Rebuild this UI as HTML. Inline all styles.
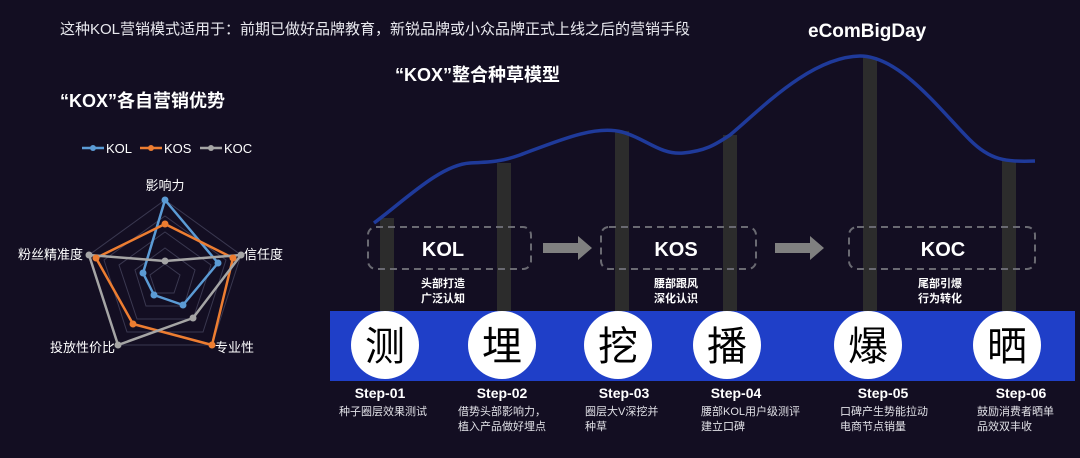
<!DOCTYPE html>
<html><head><meta charset="utf-8"><style>
body{margin:0;background:#130e22;}
svg{display:block}
text{font-family:"Liberation Sans","Noto Sans CJK SC",sans-serif;}
</style></head><body>
<svg width="1080" height="458" viewBox="0 0 1080 458" xmlns="http://www.w3.org/2000/svg">
<rect width="1080" height="458" fill="#130e22"/>
<text x="60" y="34" fill="#e8e8ee" font-size="15">这种KOL营销模式适用于：前期已做好品牌教育，新锐品牌或小众品牌正式上线之后的营销手段</text>
<text x="808" y="37" fill="#fff" font-size="19" font-weight="bold">eComBigDay</text>
<text x="395" y="81" fill="#fff" font-size="18" font-weight="bold">“KOX”整合种草模型</text>
<text x="60" y="107" fill="#fff" font-size="18" font-weight="bold">“KOX”各自营销优势</text>
<g stroke-width="2.5">
<line x1="82" y1="148" x2="104" y2="148" stroke="#5b9bd5"/><circle cx="93" cy="148" r="3" fill="#5b9bd5"/>
<line x1="140" y1="148" x2="162" y2="148" stroke="#ed7d31"/><circle cx="151" cy="148" r="3" fill="#ed7d31"/>
<line x1="200" y1="148" x2="222" y2="148" stroke="#a5a5a5"/><circle cx="211" cy="148" r="3" fill="#a5a5a5"/>
</g>
<text x="106" y="153" fill="#fff" font-size="13">KOL</text>
<text x="164" y="153" fill="#fff" font-size="13">KOS</text>
<text x="224" y="153" fill="#fff" font-size="13">KOC</text>
<g fill="none" stroke="#3a3850" stroke-width="1">
<polygon points="165,200 241,255 212,345 118,345 89,255"/>
<polygon points="165,216 226,260 203,332 127,332 104,260"/>
<polygon points="165,232 211,265 193,319 137,319 119,265"/>
<polygon points="165,248 195,270 184,306 146,306 135,270"/>
<polygon points="165,264 180,275 174,293 156,293 150,275"/>
</g>
<text x="165" y="190" fill="#fff" font-size="13" text-anchor="middle">影响力</text>
<text x="244" y="259" fill="#fff" font-size="13">信任度</text>
<text x="215" y="352" fill="#fff" font-size="13">专业性</text>
<text x="50" y="352" fill="#fff" font-size="13">投放性价比</text>
<text x="18" y="259" fill="#fff" font-size="13">粉丝精准度</text>
<g fill="none" stroke-width="2.5" stroke-linejoin="round">
<polygon points="165,200 218,263 183,305 154,295 143,273" stroke="#5b9bd5"/>
<polygon points="165,224 233,258 212,345 133,324 96,258" stroke="#ed7d31"/>
<polygon points="165,261 241,255 193,318 118,345 89,255" stroke="#a5a5a5"/>
</g>
<g fill="#5b9bd5"><circle cx="165" cy="200" r="3.5"/><circle cx="218" cy="263" r="3.5"/><circle cx="183" cy="305" r="3.5"/><circle cx="154" cy="295" r="3.5"/><circle cx="143" cy="273" r="3.5"/></g>
<g fill="#ed7d31"><circle cx="165" cy="224" r="3.5"/><circle cx="233" cy="258" r="3.5"/><circle cx="212" cy="345" r="3.5"/><circle cx="133" cy="324" r="3.5"/><circle cx="96" cy="258" r="3.5"/></g>
<g fill="#a5a5a5"><circle cx="165" cy="261" r="3.5"/><circle cx="241" cy="255" r="3.5"/><circle cx="193" cy="318" r="3.5"/><circle cx="118" cy="345" r="3.5"/><circle cx="89" cy="255" r="3.5"/></g>
<g fill="#2c2c2c">
<rect x="380" y="218" width="14" height="95"/>
<rect x="497" y="163" width="14" height="150"/>
<rect x="615" y="131" width="14" height="182"/>
<rect x="723" y="135" width="14" height="178"/>
<rect x="863" y="57" width="14" height="256"/>
<rect x="1002" y="161" width="14" height="152"/>
</g>
<path d="M374,223 C405,200 440,165 470,163 C490,162 500,162 520,155 C560,140 595,125 622,132 C645,138 660,155 683,153 C705,151 715,145 730,135 C760,110 810,57 860,56 C900,56 940,110 970,140 C990,160 1005,162 1035,161" fill="none" stroke="#1f3a9a" stroke-width="3.5"/>
<g fill="none" stroke="#6a6a72" stroke-width="2" stroke-dasharray="7,5">
<rect x="368" y="227" width="163" height="42" rx="8"/>
<rect x="601" y="227" width="155" height="42" rx="8"/>
<rect x="849" y="227" width="186" height="42" rx="8"/>
</g>
<g fill="#808080">
<polygon points="543,243 578,243 578,236 592,248 578,260 578,253 543,253"/>
<polygon points="775,243 810,243 810,236 824,248 810,260 810,253 775,253"/>
</g>
<g fill="#fff" font-weight="bold" text-anchor="middle">
<text x="443" y="256" font-size="20">KOL</text>
<text x="676" y="256" font-size="20">KOS</text>
<text x="943" y="256" font-size="20">KOC</text>
<text x="443" y="287" font-size="11">头部打造</text><text x="443" y="302" font-size="11">广泛认知</text>
<text x="676" y="287" font-size="11">腰部跟风</text><text x="676" y="302" font-size="11">深化认识</text>
<text x="940" y="287" font-size="11">尾部引爆</text><text x="940" y="302" font-size="11">行为转化</text>
</g>
<rect x="330" y="311" width="745" height="70" fill="#1f3fc8"/>
<g fill="#fff"><circle cx="385" cy="345" r="34"/><circle cx="502" cy="345" r="34"/><circle cx="618" cy="345" r="34"/><circle cx="727" cy="345" r="34"/><circle cx="868" cy="345" r="34"/><circle cx="1007" cy="345" r="34"/></g>
<g fill="#000" font-size="40" text-anchor="middle">
<text x="385" y="360">测</text><text x="502" y="360">埋</text><text x="618" y="360">挖</text><text x="727" y="360">播</text><text x="868" y="360">爆</text><text x="1007" y="360">晒</text>
</g>
<g fill="#fff" font-size="14" font-weight="bold" text-anchor="middle">
<text x="380" y="398">Step-01</text><text x="502" y="398">Step-02</text><text x="624" y="398">Step-03</text><text x="736" y="398">Step-04</text><text x="883" y="398">Step-05</text><text x="1021" y="398">Step-06</text>
</g>
<g fill="#e0e0e6" font-size="11">
<text x="339" y="415">种子圈层效果测试</text>
<text x="458" y="415">借势头部影响力，</text><text x="458" y="430">植入产品做好埋点</text>
<text x="585" y="415">圈层大V深挖并</text><text x="585" y="430">种草</text>
<text x="701" y="415">腰部KOL用户级测评</text><text x="701" y="430">建立口碑</text>
<text x="840" y="415">口碑产生势能拉动</text><text x="840" y="430">电商节点销量</text>
<text x="977" y="415">鼓励消费者晒单</text><text x="977" y="430">品效双丰收</text>
</g>
</svg>
</body></html>
